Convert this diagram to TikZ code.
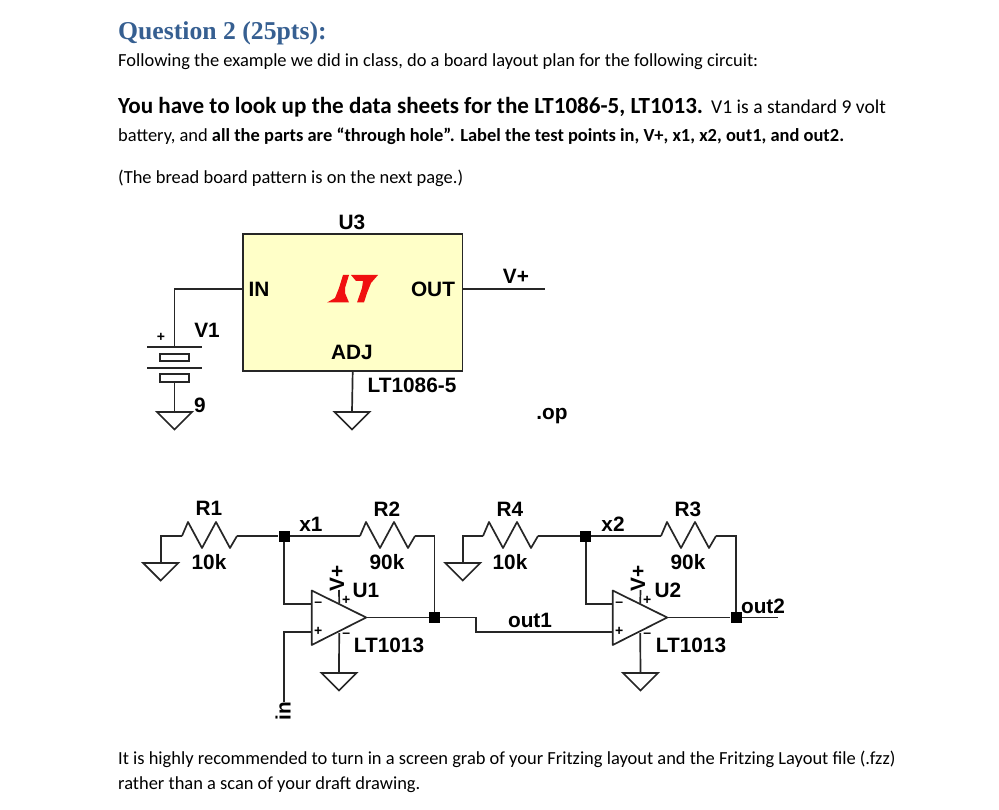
\documentclass[tikz,border=0pt]{standalone}
\usepackage{fontspec}
\setmainfont{Carlito}
\newfontfamily\schfont{Liberation Sans}
\newfontfamily\headfont{Liberation Serif}
\definecolor{headblue}{HTML}{365F91}
\definecolor{chipfill}{HTML}{FFFFC8}
\definecolor{ltred}{HTML}{F01010}
\tikzset{
  wire/.style={draw=black!85,line width=1.7pt},
  txt/.style={anchor=base west,inner sep=0pt,font=\fontsize{18.45}{20}\selectfont},
  lab/.style={inner sep=0pt,font=\schfont\bfseries\fontsize{20.8}{22}\selectfont},
  tiny/.style={inner sep=0pt,font=\schfont\bfseries\fontsize{14}{14}\selectfont},
  dot/.style={rectangle,fill=black,inner sep=0pt,minimum size=11pt},
  pics/gnd/.style={code={
    \coordinate (-top) at (0,0);
    \draw[wire] (-17.5,0) -- (17.5,0) -- (0,17.5) -- cycle;}},
  pics/res/.style={code={
    \coordinate (-a) at (0,0);
    \coordinate (-b) at (55,0);
    \draw[wire,line join=round] (-a) -- (6,-14) -- (20,12) -- (34,-14) -- (48,12) -- (-b);}},
  pics/amp/.style={code={
    \coordinate (-m) at (0,-13.5);
    \coordinate (-p) at (0,14.5);
    \coordinate (-o) at (54.5,0);
    \coordinate (-vp) at (27.5,-14);
    \coordinate (-vn) at (27.5,15.5);
    \draw[wire,line join=round] (0,-27) -- (-o) -- (0,27.5) -- cycle;
    \node[tiny] at (6.5,-13.5) {–};
    \node[tiny] at (6.5,14) {+};
    \node[tiny] at (34.5,-17) {+};
    \node[tiny] at (34.5,18) {–};}}
}
\begin{document}
\begin{tikzpicture}[x=1pt,y=-1pt]
\useasboundingbox (0,0) rectangle (999,810);
% text above the schematic
\node[anchor=base west,inner sep=0pt,text=headblue,font=\headfont\bfseries\fontsize{25.7}{28}\selectfont] (title) at (118,40) {Question 2 (25pts):};
\node[txt] (l1) at (118,67) {Following the example we did in class, do a board layout plan for the following circuit:};
\node[txt,font=\bfseries\fontsize{23.1}{26}\selectfont] (l2) at (118,114) {You have to look up the data sheets for the LT1086-5, LT1013.};
\node[txt,font=\fontsize{19.6}{20}\selectfont] (l2b) at (711,114) {V1 is a standard 9 volt};
\node[txt] (l3) at (118,142) {battery, and \textbf{all the parts are “through hole”. Label the test points in, V+, x1, x2, out1, and out2.}};
\node[txt] (l4) at (118,184) {(The bread board pattern is on the next page.)};
% regulator
\node[draw=black!85,line width=1.7pt,fill=chipfill,rectangle,inner sep=0pt,minimum width=219.5pt,minimum height=137pt] (U3) at (352.7,302.5) {};
\node[lab] (u3name) at (352,222) {U3};
\node[lab] (in) at (259,289) {IN};
\node[lab] (out) at (433,289) {OUT};
\node[lab] (adj) at (352,352) {ADJ};
\node[lab] (u3type) at (412,385) {LT1086-5};
\node[lab] (vplus) at (516,276) {V+};
\node[lab] (op) at (552,416) {.op};
\fill[ltred] (343,275) -- (349,275) -- (345,288) -- (345,293) -- (349,302.5) -- (327,302.5) -- (335,298) -- (339,288) -- cycle;
\fill[ltred] (351,275) -- (378,275) -- (371,283) -- (367,293) -- (364,302.5) -- (357,302.5) -- (362,288) -- (363,281) -- (356,281) -- cycle;
\coordinate (inw) at (243,289);
\coordinate (inc) at (174.5,289);
\coordinate (vpos) at (174.5,347);
\coordinate (outw) at (462.5,289);
\coordinate (vend) at (545,289);
\draw[wire] (inw) -- (inc) -- (vpos);
\draw[wire] (outw) -- (vend);
% battery
\coordinate (pl1a) at (147,347);
\coordinate (pl1b) at (202,347);
\coordinate (pl2a) at (147,368);
\coordinate (pl2b) at (202,368);
\foreach \from/\to in {pl1a/pl1b, pl2a/pl2b}
  \draw[wire] (\from) -- (\to);
\node[draw=black!85,line width=1.7pt,inner sep=0pt,minimum width=29pt,minimum height=7.5pt] (cell1) at (174.5,357.5) {};
\node[draw=black!85,line width=1.7pt,inner sep=0pt,minimum width=29pt,minimum height=7.5pt] (cell2) at (174.5,378) {};
\node[tiny] (vsign) at (161,337) {+};
\node[lab] (v1name) at (207,330) {V1};
\node[lab] (v1val) at (200,405) {9};
\pic (g1) at (174.5,412) {gnd};
\pic (g2) at (352,412) {gnd};
\draw[wire] (cell2.south) -- (g1-top);
\draw[wire] (U3.south) -- (g2-top);
% first stage
\pic (r1) at (182,536) {res};
\pic (r2) at (360,536) {res};
\pic (a1) at (311.7,617.5) {amp};
\pic (g3) at (160.7,563) {gnd};
\pic (g4) at (339,673) {gnd};
\node[dot] (x1) at (284,536) {};
\node[dot] (o1) at (434.5,617.5) {};
\coordinate (r1g) at (160.7,536);
\coordinate (r2c) at (434.5,536);
\coordinate (mc1) at (284,604);
\coordinate (pc1) at (284,632);
\coordinate (vt1) at (339,590);
\coordinate (jog1) at (476,617.5);
\coordinate (jog2) at (476,632);
\coordinate (inend) at (284,702);
\node[lab,rotate=90,anchor=east] (inlab) at (283,702) {in};
\draw[wire] (g3-top) -- (r1g) -- (r1-a);
\draw[wire] (r1-b) -- (x1) -- (r2-a);
\draw[wire] (r2-b) -- (r2c) -- (o1);
\draw[wire] (x1) -- (mc1) -- (a1-m);
\draw[wire] (a1-p) -- (pc1) -- (inend);
\draw[wire] (a1-o) -- (o1);
\draw[wire] (vt1) -- (a1-vp);
\draw[wire] (a1-vn) -- (g4-top);
\node[lab] (r1name) at (209,508) {R1};
\node[lab] (r1val) at (209,562) {10k};
\node[lab] (x1lab) at (311,524) {x1};
\node[lab] (r2name) at (387,509) {R2};
\node[lab] (r2val) at (387,562) {90k};
\node[lab,rotate=90] (v1p) at (337,578) {V+};
\node[lab] (u1name) at (366,590) {U1};
\node[lab] (a1type) at (389,645) {LT1013};
% second stage
\pic (r4) at (483,536) {res};
\pic (r3) at (661,536) {res};
\pic (a2) at (612.7,617.5) {amp};
\pic (g5) at (462.7,563) {gnd};
\pic (g6) at (640.5,673) {gnd};
\node[dot] (x2) at (585.7,536) {};
\node[dot] (o2) at (736,617.5) {};
\coordinate (r4g) at (462.7,536);
\coordinate (r3c) at (736,536);
\coordinate (mc2) at (585.7,604);
\coordinate (vt2) at (640.5,590);
\coordinate (oend) at (778,617.5);
\draw[wire] (g5-top) -- (r4g) -- (r4-a);
\draw[wire] (r4-b) -- (x2) -- (r3-a);
\draw[wire] (r3-b) -- (r3c) -- (o2);
\draw[wire] (x2) -- (mc2) -- (a2-m);
\draw[wire] (o1) -- (jog1) -- (jog2) -- (a2-p);
\draw[wire] (a2-o) -- (o2) -- (oend);
\draw[wire] (vt2) -- (a2-vp);
\draw[wire] (a2-vn) -- (g6-top);
\node[lab] (r4name) at (510,509) {R4};
\node[lab] (r4val) at (510,562) {10k};
\node[lab] (x2lab) at (613,524) {x2};
\node[lab] (r3name) at (688,509) {R3};
\node[lab] (r3val) at (688,562) {90k};
\node[lab,rotate=90] (v2p) at (638,578) {V+};
\node[lab] (u2name) at (668,590) {U2};
\node[lab] (a2type) at (691,645) {LT1013};
\node[lab] (o1lab) at (530,620) {out1};
\node[lab] (o2lab) at (763,606) {out2};
% text below the schematic
\node[txt] (l5) at (118,764) {It is highly recommended to turn in a screen grab of your Fritzing layout and the Fritzing Layout file (.fzz)};
\node[txt] (l6) at (118,789) {rather than a scan of your draft drawing.};
\end{tikzpicture}
\end{document}
